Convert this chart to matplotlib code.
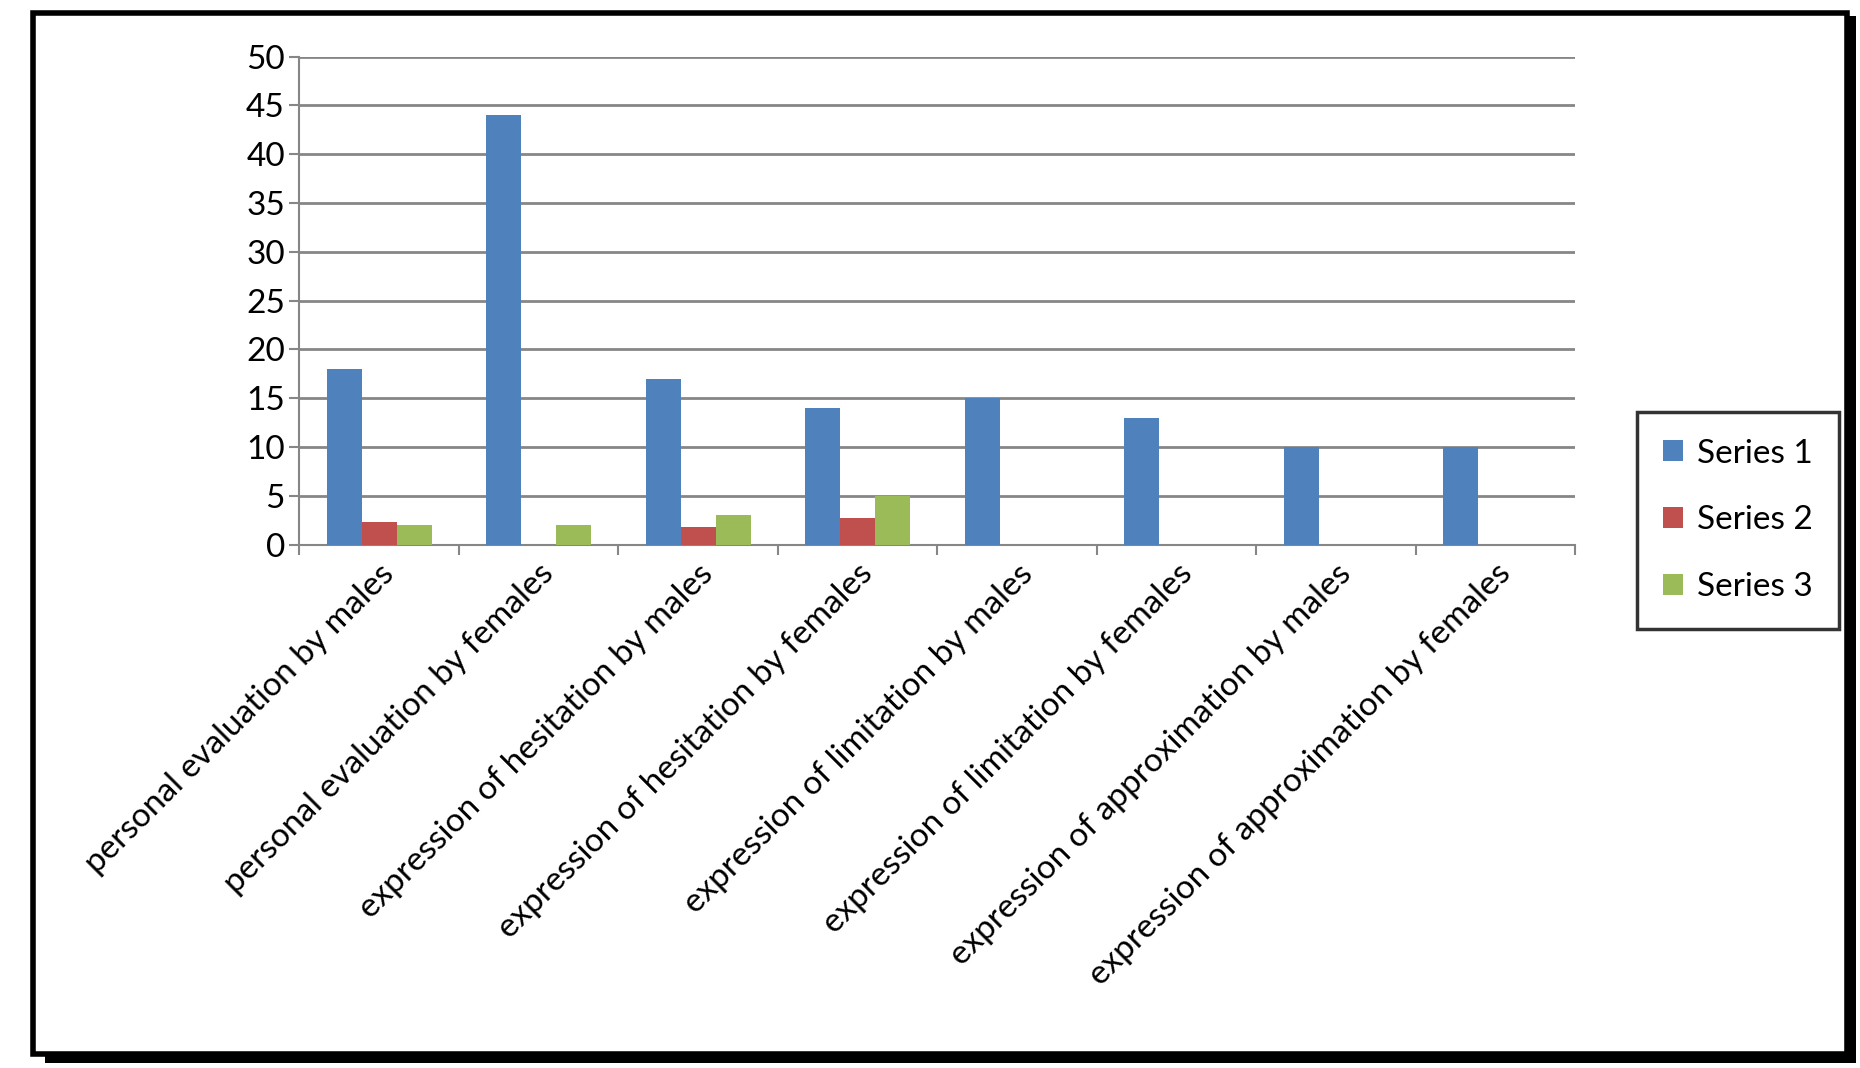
import matplotlib
matplotlib.use("Agg")
import matplotlib.pyplot as plt
from matplotlib.patches import Rectangle
import numpy as np

categories = ["personal evaluation by males", "personal evaluation by females",
              "expression of hesitation by males", "expression of hesitation by females",
              "expression of limitation by males", "expression of limitation by females",
              "expression of approximation by males", "expression of approximation by females"]
series1 = [18, 44, 17, 14, 15, 13, 10, 10]
series2 = [2.3, 0, 1.8, 2.7, 0, 0, 0, 0]
series3 = [2, 2, 3, 5, 0, 0, 0, 0]
names = ["Series 1", "Series 2", "Series 3"]
colors = ["#4F81BD", "#C0504D", "#9BBB59"]

plt.rcParams['font.family'] = ['Lato', 'DejaVu Sans']
fig = plt.figure(figsize=(18.6, 10.68), dpi=100)
fig.patches.append(Rectangle((0.024, 0.005), 0.974, 0.98, transform=fig.transFigure, facecolor='#000000', edgecolor='none', zorder=0))
fig.patches.append(Rectangle((0.018, 0.013), 0.975, 0.975, transform=fig.transFigure, facecolor='white', edgecolor='black', linewidth=4, zorder=1))

ax = fig.add_axes([0.161, 0.49, 0.686, 0.457])
ax.set_zorder(2)
x = np.arange(len(categories))
w = 0.22
for i, s in enumerate([series1, series2, series3]):
    ax.bar(x + (i - 1) * w, s, w, color=colors[i], label=names[i], zorder=3)
ax.set_xlim(-0.5, len(categories) - 0.5)
ax.set_ylim(0, 50)
ax.set_yticks(range(0, 51, 5))
ax.yaxis.grid(True, color='#868686', linewidth=2, zorder=0)
ax.set_xticks(x)
ax.set_xticklabels(categories, rotation=45, ha='right', rotation_mode='anchor', fontsize=24)
ax.tick_params(axis='x', length=0, pad=10)
ax.set_xticks(np.arange(-0.5, len(categories)), minor=True)
ax.tick_params(axis='x', which='minor', length=7, width=1.5, color='#868686')
ax.tick_params(axis='y', labelsize=24, length=7, width=1.5, color='#868686')
for s in ['top', 'right']:
    ax.spines[s].set_visible(False)
for s in ['left', 'bottom']:
    ax.spines[s].set_color('#868686')
    ax.spines[s].set_linewidth(1.5)
leg = ax.legend(loc='center left', bbox_to_anchor=(1.035, 0.05), fontsize=24, frameon=True,
                fancybox=False, edgecolor='black', handlelength=0.6, handleheight=0.6,
                handletextpad=0.4, labelspacing=1.1, borderpad=0.8)
leg.get_frame().set_linewidth(2.5)
fig.savefig("out.png", dpi=100)
